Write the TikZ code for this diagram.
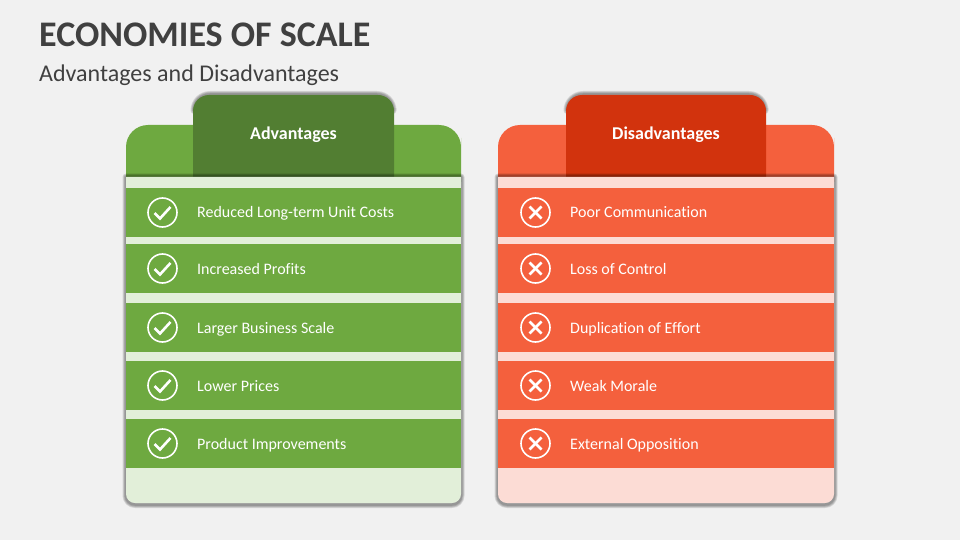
\documentclass[tikz,border=0pt]{standalone}
\usepackage{fontspec}
\usetikzlibrary{calc}
\setmainfont[Ligatures=NoCommon]{Carlito}
\definecolor{bgc}{HTML}{F1F1F1}
\definecolor{titlec}{HTML}{404040}
\definecolor{gmain}{HTML}{6EA940}
\definecolor{gdark}{HTML}{527E32}
\definecolor{glight}{HTML}{E2EFD9}
\definecolor{rmain}{HTML}{F4603D}
\definecolor{rdark}{HTML}{D2330D}
\definecolor{rlight}{HTML}{FCDCD5}
\tikzset{
 x=1pt,y=-1pt,
 titletext/.style={anchor=base west,inner sep=0pt,text=titlec,font=\fontsize{36}{36}\selectfont\bfseries},
 subtext/.style={anchor=base west,inner sep=0pt,text=titlec,font=\fontsize{24}{24}\selectfont},
 headtext/.style={anchor=base,inner sep=0pt,text=white,font=\fontsize{18}{18}\selectfont\bfseries},
 rowtext/.style={anchor=base west,inner sep=0pt,text=white,font=\fontsize{16}{16}\selectfont},
 badge/.style={circle,draw=white,line width=1.6pt,minimum size=29pt,inner sep=0pt},
 mark stroke/.style={draw=white,line width=2.6pt},
}
\newcommand{\softshadow}[1]{%
  \foreach \w in {7,5.5,4,2.5}{\draw[black,opacity=0.11,line width=\w pt,line join=round] #1;}}
\newcommand{\panelshapes}[7]{%
  \fill[#5] (#1,177) [rounded corners=22pt] -- (#1,125) -- (#2,125) -- (#2,160) [sharp corners] -- (#2,177) -- cycle;
  \softshadow{[rounded corners=16pt] (#3+1,108) -- (#3+1,94.5) -- (#4-1,94.5) -- (#4-1,108)}
  \fill[#6] (#3,177) [rounded corners=16pt] -- (#3,95) -- (#4,95) -- (#4,160) [sharp corners] -- (#4,177) -- cycle;
  \softshadow{(#1,177) [sharp corners] -- (#1,300) [rounded corners=9pt] -- (#1,504.5) -- (#2,504.5) -- (#2,300) [sharp corners] -- (#2,177) -- cycle}
  \fill[#7] (#1,177) [sharp corners] -- (#1,300) [rounded corners=9pt] -- (#1,503) -- (#2,503) -- (#2,300) [sharp corners] -- (#2,177) -- cycle;
  \foreach \t/\b in {188/237,244/293,303/352,361/410,419/468}{\fill[#5] (#1,\t) rectangle (#2,\b);}
}
\begin{document}
\begin{tikzpicture}
\useasboundingbox (0,0) rectangle (960,540);
\fill[bgc] (0,0) rectangle (960,540);
\node[titletext] (title) at (39,46.5) {ECONOMIES OF SCALE};
\node[subtext] (subtitle) at (39,82) {Advantages and Disadvantages};

\panelshapes{126}{461}{193}{394}{gmain}{gdark}{glight}
\panelshapes{498}{834}{566}{766}{rmain}{rdark}{rlight}

\node[headtext] (hA) at (293.5,139.2) {Advantages};
\node[headtext] (hD) at (666,139.2) {Disadvantages};

\foreach \n/\y/\b/\s in {1/212.5/217.3/Reduced Long-term Unit Costs,2/268.5/274.3/Increased Profits,3/327.5/333.3/Larger Business Scale,4/385.5/391/Lower Prices,5/443.5/449.3/Product Improvements}{
  \node[badge] (a\n) at (162.5,\y) {};
  \draw[mark stroke,line join=miter] ($(a\n)+(-8,0.5)$) -- ($(a\n)+(-2.5,6)$) -- ($(a\n)+(8,-5.5)$);
  \node[rowtext] (at\n) at (197,\b) {\s};
}
\foreach \n/\y/\b/\s in {1/212.5/217.3/Poor Communication,2/268.5/274.3/Loss of Control,3/327.5/333.3/Duplication of Effort,4/385.5/391/Weak Morale,5/443.5/449.3/External Opposition}{
  \node[badge] (d\n) at (535.5,\y) {};
  \draw[mark stroke] ($(d\n)+(-6,-6)$) -- ($(d\n)+(6,6)$);
  \draw[mark stroke] ($(d\n)+(6,-6)$) -- ($(d\n)+(-6,6)$);
  \node[rowtext] (dt\n) at (570,\b) {\s};
}
\end{tikzpicture}
\end{document}
